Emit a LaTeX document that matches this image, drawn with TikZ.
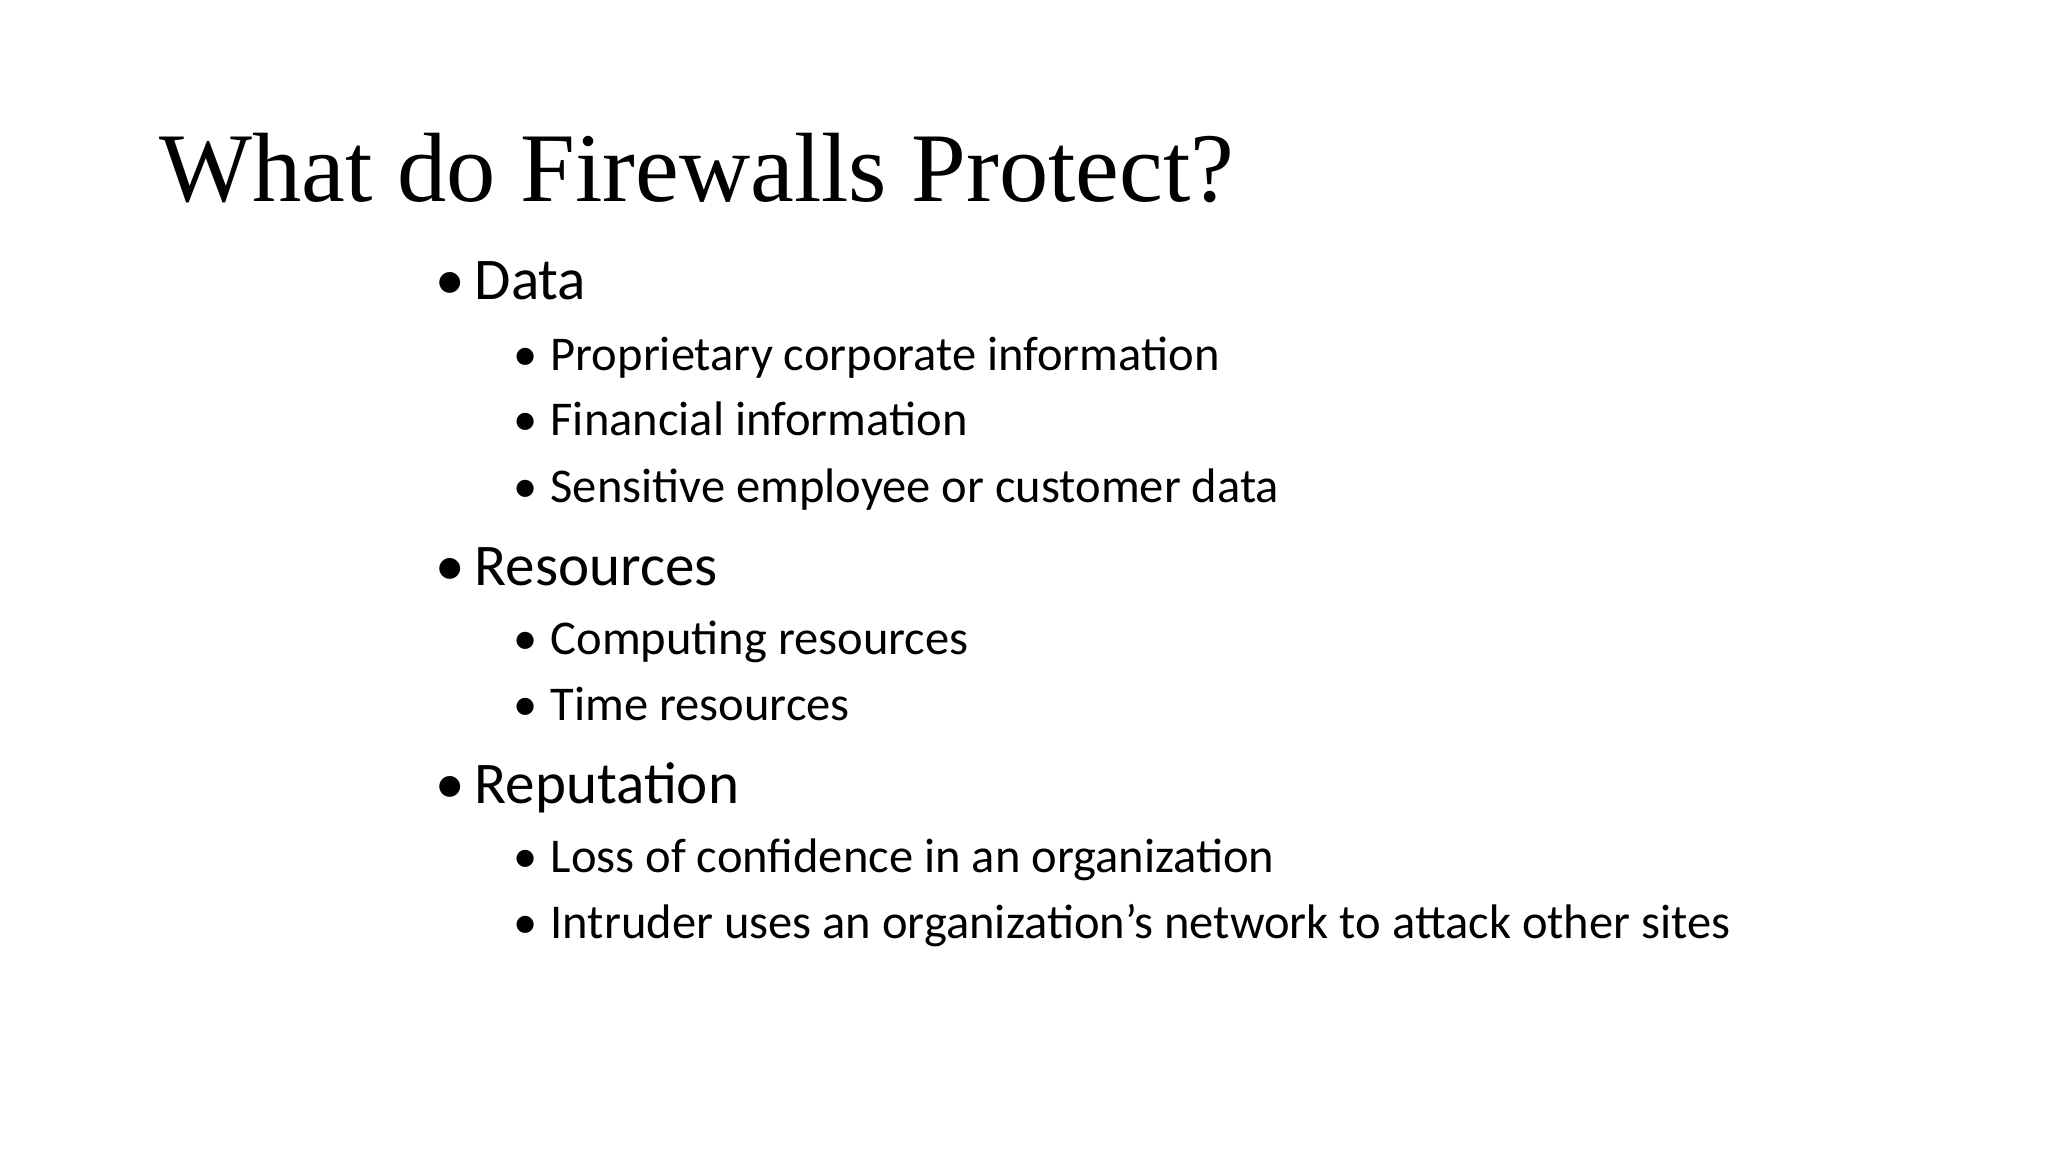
\documentclass[tikz,border=0pt]{standalone}
\usepackage{fontspec}
\setmainfont{Carlito}
\newfontfamily\titlefont{Liberation Serif}
\begin{document}
\begin{tikzpicture}[x=0.01cm,y=-0.01cm,
  ttl/.style={anchor=base west,inner sep=0pt,font=\titlefont\fontsize{28}{32}\selectfont},
  lone/.style={anchor=base west,inner sep=0pt,font=\fontsize{16.8}{20}\selectfont},
  ltwo/.style={anchor=base west,inner sep=0pt,font=\fontsize{13.8}{17}\selectfont}]
\useasboundingbox[fill=white] (0,0) rectangle (2048,1152);
\node[ttl] (t) at (159,202) {What do Firewalls Protect?};
\foreach \n/\y/\s in {a/300/Data,b/585/Resources,c/803/Reputation}{
  \node[lone] (b\n) at (435,\y) {•};
  \node[lone] (\n) at (474,\y) {\s};
}
\foreach \n/\y/\s in {a1/371/Proprietary corporate information,a2/436/Financial information,a3/502/Sensitive employee or customer data,b1/654/Computing resources,b2/720/Time resources,c1/872/Loss of confidence in an organization,c2/938/Intruder uses an organization’s network to attack other sites}{
  \node[ltwo] (b\n) at (513,\y) {•};
  \node[ltwo] (\n) at (550,\y) {\s};
}
\end{tikzpicture}
\end{document}
